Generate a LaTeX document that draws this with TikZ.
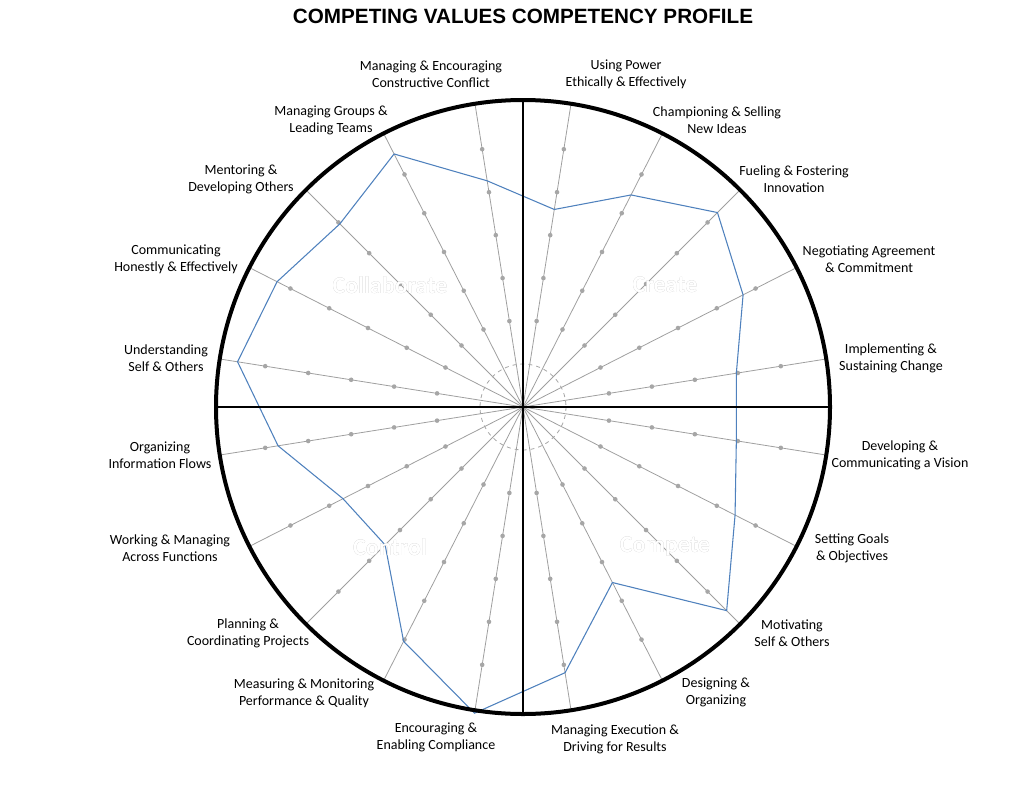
\documentclass[tikz,border=0pt]{standalone}
\usepackage{fontspec}
\setmainfont{Carlito}
\newfontfamily\titlefont{Liberation Sans}
\usepackage[outline]{contour}
\contourlength{0.6pt}
\usetikzlibrary{calc}
\begin{document}
\begin{tikzpicture}[x=0.75pt,y=-0.75pt,
  spoke/.style={draw=gray!75,line width=0.6pt},
  axisline/.style={draw=black,line width=2pt},
  lbl/.style={align=center,font=\fontsize{10.5}{12.8}\selectfont,inner sep=0pt},
  quad/.style={font=\fontsize{18}{20}\selectfont\bfseries,inner sep=0pt},
  dotmark/.style={fill=gray!70,draw=none}]
\useasboundingbox (0,0) rectangle (1024,789);
\coordinate (O) at (523,407);
\node[font=\titlefont\bfseries\fontsize{15.5}{18}\selectfont] (title) at (523,16) {COMPETING VALUES COMPETENCY PROFILE};
% spokes with dots
\foreach \a in {9,27,...,351}{
  \draw[spoke] (O) -- ++(-\a:307) coordinate (s\a);
  \foreach \k in {2,...,6}{
    \fill[dotmark] (O) ++(-\a:\k*43.5) circle (2.3);
  }
}
\draw[gray!70,dashed,line width=0.6pt] (O) circle (43);
% polygon
\draw[draw={rgb,255:red,79;green,129;blue,189},line width=0.8pt]
  ($(O)+(-81:200)$) -- ($(O)+(-63:238)$) -- ($(O)+(-45:275)$) -- ($(O)+(-27:247)$)
  -- ($(O)+(-9:216)$) -- ($(O)+(9:216)$) -- ($(O)+(27:238)$) -- ($(O)+(45:288)$)
  -- ($(O)+(63:197)$) -- ($(O)+(81:269)$) -- ($(O)+(99:310)$) -- ($(O)+(117:263)$)
  -- ($(O)+(135:195)$) -- ($(O)+(153:202)$) -- ($(O)+(171:248)$) -- ($(O)+(189:289)$)
  -- ($(O)+(207:276)$) -- ($(O)+(225:259)$) -- ($(O)+(243:284)$) -- ($(O)+(261:229)$) -- cycle;
% axes and circle
\draw[axisline] (216,407) -- (830,407);
\draw[axisline] (523,100) -- (523,714);
\draw[black,line width=3pt] (O) circle (307);
% quadrant words
\node[quad] (qa) at (390,285) {\contour{gray!60}{\textcolor{white}{Collaborate}}};
\node[quad] (qb) at (665,285) {\contour{gray!60}{\textcolor{white}{Create}}};
\node[quad] (qc) at (390,547) {\contour{gray!60}{\textcolor{white}{Control}}};
\node[quad] (qd) at (665,547) {\contour{gray!60}{\textcolor{white}{Compete}}};
% labels
\node[lbl] (l1) at (431,74) {Managing \& Encouraging\\Constructive Conflict};
\node[lbl] (l2) at (626,74) {Using Power\\Ethically \& Effectively};
\node[lbl] (l3) at (331,120) {Managing Groups \&\\Leading Teams};
\node[lbl] (l4) at (717,120) {Championing \& Selling\\New Ideas};
\node[lbl] (l5) at (241,179) {Mentoring \&\\Developing Others};
\node[lbl] (l6) at (794,179) {Fueling \& Fostering\\Innovation};
\node[lbl] (l7) at (176,259) {Communicating\\Honestly \& Effectively};
\node[lbl] (l8) at (869,259) {Negotiating Agreement\\\& Commitment};
\node[lbl] (l9) at (166,358) {Understanding\\Self \& Others};
\node[lbl] (l10) at (891,358) {Implementing \&\\Sustaining Change};
\node[lbl] (l11) at (160,455) {Organizing\\Information Flows};
\node[lbl] (l12) at (900,455) {Developing \&\\Communicating a Vision};
\node[lbl] (l13) at (170,548) {Working \& Managing\\Across Functions};
\node[lbl] (l14) at (852,548) {Setting Goals\\\& Objectives};
\node[lbl] (l15) at (248,633) {Planning \&\\Coordinating Projects};
\node[lbl] (l16) at (792,633) {Motivating\\Self \& Others};
\node[lbl] (l17) at (304,693) {Measuring \& Monitoring\\Performance \& Quality};
\node[lbl] (l18) at (716,692) {Designing \&\\Organizing};
\node[lbl] (l19) at (436,737) {Encouraging \&\\Enabling Compliance};
\node[lbl] (l20) at (615,739) {Managing Execution \&\\Driving for Results};
\end{tikzpicture}
\end{document}
